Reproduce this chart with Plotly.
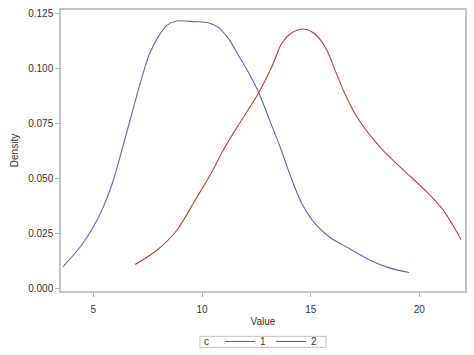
import plotly.graph_objects as go

# Group 1 density curve
x1 = [3.59, 4.39, 5.0, 5.46, 5.92, 6.33, 6.77, 7.23, 7.58, 7.99, 8.38, 8.84, 9.68, 10.29, 10.75,
      11.21, 11.67, 12.13, 12.59, 13.05, 13.59, 14.13, 14.59, 15.2, 15.89, 16.81, 17.73, 18.65, 19.53]
y1 = [0.0098, 0.0189, 0.028, 0.0371, 0.0492, 0.0635, 0.0795, 0.0958, 0.1065, 0.1144, 0.1195, 0.1215,
      0.1212, 0.1207, 0.1186, 0.1136, 0.106, 0.0982, 0.0894, 0.078, 0.0644, 0.0495, 0.0386, 0.0295,
      0.0232, 0.0180, 0.0129, 0.0093, 0.0073]

# Group 2 density curve
x2 = [6.92, 7.92, 8.84, 9.68, 10.4, 10.98, 11.67, 12.59, 13.21, 13.67, 14.13, 14.66, 15.2, 15.74,
      16.12, 16.5, 17.12, 18.27, 19.27, 20.34, 21.1, 21.92]
y2 = [0.0109, 0.0174, 0.0265, 0.0401, 0.052, 0.0629, 0.0742, 0.0886, 0.1007, 0.1114, 0.1162, 0.1179,
      0.1156, 0.1083, 0.0992, 0.0901, 0.078, 0.0633, 0.0538, 0.0439, 0.0356, 0.0223]

x_ticks = [5, 10, 15, 20]
y_ticks = [0.0, 0.025, 0.05, 0.075, 0.1, 0.125]
y_ticklabels = ["0.000", "0.025", "0.050", "0.075", "0.100", "0.125"]
legend_title = "c"

FONT = "Liberation Sans, Arial, sans-serif"
fig = go.Figure()
fig.add_trace(go.Scatter(x=x1, y=y1, mode="lines", name="1",
                         line=dict(color="#5E6AA6", width=1.1, shape="spline", smoothing=0.8)))
fig.add_trace(go.Scatter(x=x2, y=y2, mode="lines", name="2",
                         line=dict(color="#A8493F", width=1.1, shape="spline", smoothing=0.8)))

axis_common = dict(showline=True, linecolor="#C4C4C4", linewidth=1.5, mirror=True,
                   ticks="outside", ticklen=4, tickcolor="#B0B0B0", showgrid=False,
                   zeroline=False, tickfont=dict(family=FONT, size=10, color="#333333"))
fig.update_xaxes(range=[3.51, 22.1], tickvals=x_ticks, ticklabelstandoff=4,
                 title=dict(text="Value", font=dict(family=FONT, size=10, color="#333333"), standoff=8),
                 **axis_common)
fig.update_yaxes(range=[-0.0011, 0.1265], tickvals=y_ticks, ticktext=y_ticklabels,
                 title=dict(text="Density", font=dict(family=FONT, size=10, color="#333333"), standoff=8),
                 **axis_common)

# legend frame and title
fig.add_shape(type="rect", xref="paper", yref="paper", x0=0.344, x1=0.656, y0=-0.1614, y1=-0.2006,
              line=dict(color="#C4C4C4", width=1), fillcolor="rgba(0,0,0,0)")
fig.add_annotation(text=legend_title, xref="paper", yref="paper", x=0.3606, y=-0.181,
                   xanchor="center", yanchor="middle", showarrow=False,
                   font=dict(family=FONT, size=10, color="#333333"))

fig.update_layout(
    width=474, height=355,
    margin=dict(l=61, r=9, t=10, b=64, autoexpand=False),
    paper_bgcolor="white", plot_bgcolor="white",
    font=dict(family=FONT, size=10, color="#333333"),
    legend=dict(orientation="h", x=0.52, xanchor="center", xref="paper",
                y=0.079, yanchor="top", yref="container",
                bgcolor="rgba(0,0,0,0)", borderwidth=0, font=dict(family=FONT, size=10),
                itemwidth=30, tracegroupgap=0),
)
fig.write_html("out.html")
